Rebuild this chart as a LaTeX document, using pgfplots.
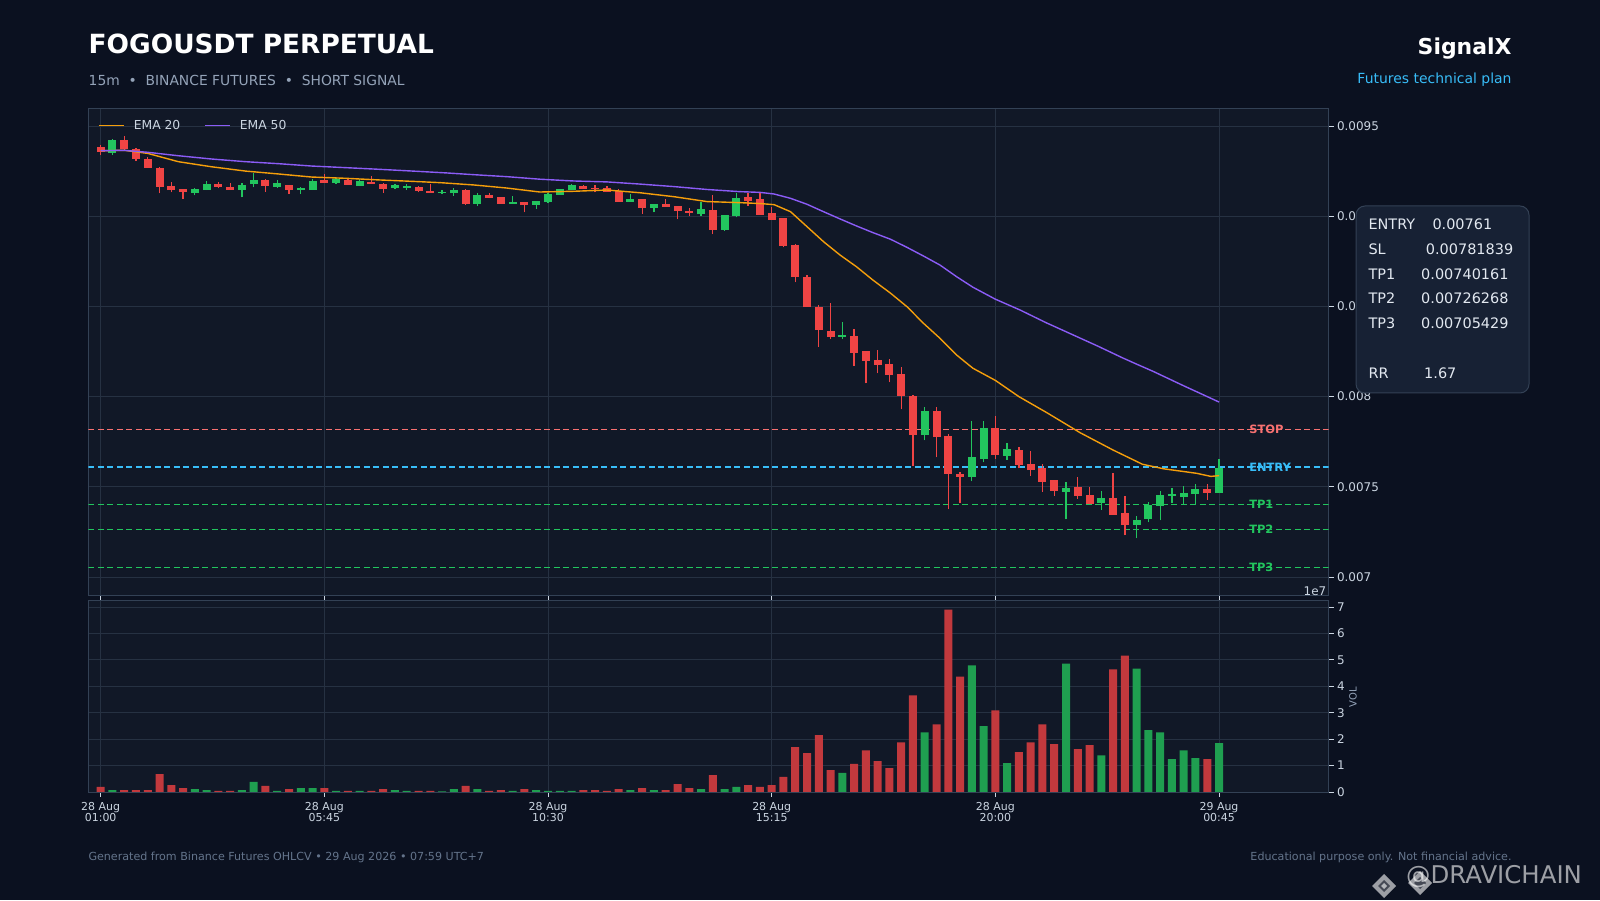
\documentclass[border=0pt]{standalone}
\usepackage{fontspec}
\setmainfont{DejaVu Sans}
\usepackage{pgfplots}
\usepackage{pgfplotstable}
\pgfplotsset{compat=1.18}
\pgfplotsset{/pgf/number format/assume math mode=true}

\definecolor{cBg}{HTML}{0B1120}
\definecolor{cPlot}{HTML}{111827}
\definecolor{cGrid}{HTML}{263142}
\definecolor{cSpine}{HTML}{334155}
\definecolor{cTick}{HTML}{CBD5E1}
\definecolor{cUp}{HTML}{22C55E}
\definecolor{cDown}{HTML}{EF4444}
\definecolor{vUp}{HTML}{1F9F50}
\definecolor{vDown}{HTML}{C2393D}
\definecolor{cEmaA}{HTML}{F59E0B}
\definecolor{cEmaB}{HTML}{8B5CF6}
\definecolor{cStop}{HTML}{F87171}
\definecolor{cEntry}{HTML}{38BDF8}
\definecolor{cTP}{HTML}{22C55E}
\definecolor{cSub}{HTML}{94A3B8}
\definecolor{cFoot}{HTML}{64748B}
\definecolor{cBox}{HTML}{172134}
\definecolor{cBoxEdge}{HTML}{334155}
\definecolor{cBoxText}{HTML}{E2E8F0}

\newcommand{\fsz}[1]{\fontsize{#1}{#1}\selectfont}

% green (up) candles: index, open, high, low, close, volume
\pgfplotstableread{
i o h l c v
1 0.009352 0.009426 0.009339 0.009422 0.075e7
8 0.009129 0.009154 0.009116 0.009151 0.11e7
9 0.009145 0.009193 0.009145 0.009178 0.075e7
12 0.009145 0.009182 0.009104 0.009173 0.075e7
13 0.009178 0.009241 0.009160 0.009201 0.38e7
15 0.009162 0.009199 0.009156 0.009184 0.04e7
17 0.009145 0.009164 0.009125 0.009158 0.15e7
18 0.009145 0.009204 0.009145 0.009195 0.15e7
20 0.009184 0.009212 0.009180 0.009208 0.04e7
22 0.009167 0.009204 0.009167 0.009195 0.04e7
25 0.009156 0.009177 0.009152 0.009173 0.075e7
26 0.009156 0.009178 0.009145 0.009167 0.04e7
29 0.009129 0.009145 0.009125 0.009136 0.02e7
30 0.009130 0.009154 0.009114 0.009147 0.11e7
32 0.009067 0.009130 0.009056 0.009116 0.11e7
35 0.009070 0.009112 0.009070 0.009079 0.04e7
37 0.009062 0.009084 0.009042 0.009084 0.075e7
38 0.009079 0.009127 0.009073 0.009123 0.04e7
39 0.009118 0.009153 0.009118 0.009151 0.04e7
40 0.009145 0.009180 0.009145 0.009173 0.04e7
45 0.009079 0.009125 0.009079 0.009095 0.075e7
47 0.009045 0.009068 0.009021 0.009068 0.075e7
51 0.009012 0.009081 0.009001 0.009040 0.11e7
53 0.008924 0.009007 0.008920 0.009007 0.11e7
54 0.009001 0.009127 0.008994 0.009101 0.19e7
63 0.008332 0.008415 0.008317 0.008338 0.72e7
70 0.007787 0.007940 0.007758 0.007920 2.26e7
74 0.007556 0.007863 0.007530 0.007665 4.79e7
75 0.007654 0.007867 0.007636 0.007826 2.49e7
77 0.007671 0.007741 0.007649 0.007710 1.09e7
82 0.007473 0.007525 0.007320 0.007493 4.86e7
85 0.007412 0.007479 0.007371 0.007438 1.39e7
88 0.007288 0.007338 0.007214 0.007316 4.67e7
89 0.007321 0.007416 0.007303 0.007399 2.34e7
90 0.007394 0.007475 0.007314 0.007455 2.26e7
91 0.007449 0.007492 0.007412 0.007460 1.24e7
92 0.007443 0.007506 0.007405 0.007466 1.58e7
93 0.007460 0.007514 0.007406 0.007488 1.28e7
95 0.007468 0.007654 0.007466 0.007606 1.85e7
}\uptab

% red (down) candles: index, open, high, low, close, volume
\pgfplotstableread{
i o h l c v
0 0.009385 0.009395 0.009339 0.009358 0.19e7
2 0.009422 0.009444 0.009367 0.009372 0.075e7
3 0.009372 0.009376 0.009308 0.009317 0.075e7
4 0.009315 0.009326 0.009269 0.009269 0.075e7
5 0.009267 0.009274 0.009127 0.009164 0.68e7
6 0.009167 0.009188 0.009132 0.009145 0.26e7
7 0.009151 0.009151 0.009097 0.009134 0.15e7
10 0.009178 0.009189 0.009154 0.009162 0.04e7
11 0.009162 0.009182 0.009145 0.009145 0.04e7
14 0.009201 0.009204 0.009136 0.009167 0.23e7
16 0.009173 0.009173 0.009123 0.009145 0.11e7
19 0.009201 0.009232 0.009184 0.009184 0.15e7
21 0.009202 0.009208 0.009175 0.009175 0.04e7
23 0.009189 0.009221 0.009178 0.009178 0.04e7
24 0.009178 0.009182 0.009130 0.009151 0.11e7
27 0.009162 0.009165 0.009132 0.009140 0.04e7
28 0.009140 0.009178 0.009130 0.009130 0.04e7
31 0.009145 0.009149 0.009064 0.009067 0.23e7
33 0.009118 0.009127 0.009099 0.009103 0.04e7
34 0.009106 0.009106 0.009068 0.009068 0.075e7
36 0.009079 0.009079 0.009021 0.009062 0.11e7
41 0.009167 0.009175 0.009151 0.009151 0.075e7
42 0.009155 0.009175 0.009132 0.009149 0.075e7
43 0.009156 0.009166 0.009134 0.009134 0.04e7
44 0.009140 0.009153 0.009079 0.009079 0.11e7
46 0.009095 0.009095 0.009014 0.009045 0.15e7
48 0.009068 0.009094 0.009051 0.009051 0.075e7
49 0.009057 0.009057 0.008983 0.009029 0.30e7
50 0.009029 0.009044 0.009003 0.009018 0.15e7
52 0.009034 0.009116 0.008899 0.008924 0.64e7
55 0.009105 0.009130 0.009058 0.009084 0.26e7
56 0.009095 0.009127 0.009007 0.009007 0.19e7
57 0.009018 0.009053 0.008979 0.008979 0.26e7
58 0.008992 0.008992 0.008827 0.008835 0.57e7
59 0.008840 0.008846 0.008633 0.008665 1.70e7
60 0.008665 0.008672 0.008499 0.008499 1.47e7
61 0.008499 0.008506 0.008277 0.008369 2.15e7
62 0.008364 0.008517 0.008317 0.008332 0.83e7
64 0.008338 0.008373 0.008172 0.008244 1.06e7
65 0.008253 0.008253 0.008074 0.008199 1.58e7
66 0.008203 0.008256 0.008129 0.008177 1.17e7
67 0.008181 0.008207 0.008079 0.008122 0.90e7
68 0.008125 0.008162 0.007929 0.008005 1.88e7
69 0.008003 0.008009 0.007617 0.007787 3.66e7
71 0.007920 0.007940 0.007663 0.007778 2.56e7
72 0.007782 0.007791 0.007375 0.007571 6.90e7
73 0.007571 0.007580 0.007412 0.007556 4.37e7
76 0.007826 0.007894 0.007652 0.007676 3.09e7
78 0.007704 0.007719 0.007602 0.007621 1.51e7
79 0.007626 0.007697 0.007562 0.007593 1.88e7
80 0.007604 0.007625 0.007473 0.007528 2.56e7
81 0.007538 0.007538 0.007451 0.007477 1.81e7
83 0.007499 0.007553 0.007434 0.007449 1.62e7
84 0.007455 0.007501 0.007405 0.007405 1.77e7
86 0.007438 0.007575 0.007344 0.007344 4.64e7
87 0.007355 0.007451 0.007231 0.007288 5.16e7
94 0.007488 0.007514 0.007429 0.007466 1.24e7
}\downtab

\pgfplotsset{
  panel/.style={
    scale only axis, width=1240.2bp,
    xmin=-1.05, xmax=104.3,
    axis background/.style={fill=cPlot},
    axis line style={cSpine, line width=0.8bp},
    grid=major, major grid style={cGrid, line width=0.8bp},
    tick align=outside, major tick length=5bp,
    tick style={cTick, line width=0.8bp},
    xtick pos=left, ytick pos=right, yticklabel pos=right,
    xtick={0,19,38,57,76,95},
    tick label style={text=cTick},
    y tick label style={font=\fsz{12}},
  },
  wick/.style={draw=none, mark=none, forget plot,
    error bars/.cd, y dir=plus, y explicit, error mark=none,
    error bar style={draw=#1, line width=1.3bp}},
  body/.style={draw=none, mark=none, forget plot,
    error bars/.cd, y dir=plus, y explicit, error mark=none,
    error bar style={draw=#1, line width=8bp}},
  level/.style={forget plot, #1, line width=1.3bp, dash pattern=on 6bp off 3.5bp},
}

\begin{document}
\begin{tikzpicture}[x=1bp,y=1bp]
\fill[cBg] (0,0) rectangle (1600,900);
\useasboundingbox (0,0) rectangle (1600,900);

% ---------------- price panel ----------------
\begin{axis}[panel,
  at={(88.3bp,304.7bp)}, anchor=south west, height=487bp,
  ymin=0.006899, ymax=0.009598,
  xticklabels={},
  ytick={0.007,0.0075,0.008,0.0085,0.009,0.0095},
  scaled y ticks=false,
  yticklabel style={/pgf/number format/fixed, /pgf/number format/precision=4},
  legend style={at={(0.0055,0.986)}, anchor=north west, draw=none, fill=none,
    text=cTick, font=\fsz{12.4}, inner sep=3bp,
    /tikz/every odd column/.append style={column sep=7bp},
    /tikz/every even column/.append style={column sep=22bp}},
  legend columns=2,
  legend image code/.code={\draw[#1, line width=1.5bp] (0bp,0bp) -- (25bp,0bp);},
]
% level lines
\addplot[level=cStop] coordinates {(-1.05,0.00781839) (104.3,0.00781839)};
\addplot[level=cEntry] coordinates {(-1.05,0.00761) (104.3,0.00761)};
\addplot[level=cTP] coordinates {(-1.05,0.00740161) (104.3,0.00740161)};
\addplot[level=cTP] coordinates {(-1.05,0.00726268) (104.3,0.00726268)};
\addplot[level=cTP] coordinates {(-1.05,0.00705429) (104.3,0.00705429)};

% candles
\addplot[wick=cUp] table[x=i, y=l, y error plus expr={\thisrow{h}-\thisrow{l}}] {\uptab};
\addplot[wick=cDown] table[x=i, y=l, y error plus expr={\thisrow{h}-\thisrow{l}}] {\downtab};
\addplot[body=cUp] table[x=i, y=o, y error plus expr={max(\thisrow{c}-\thisrow{o},0.000007)}] {\uptab};
\addplot[body=cDown] table[x=i, y=c, y error plus expr={max(\thisrow{o}-\thisrow{c},0.000007)}] {\downtab};

% EMAs
\addplot[cEmaA, line width=1.4bp, mark=none] coordinates {
(0,0.009363) (2,0.009365) (4,0.009348) (6.6,0.009302) (9.4,0.009274) (12.3,0.009250)
(15.1,0.009234) (17.9,0.009217) (20.8,0.009210) (23.6,0.009201) (26.5,0.009193)
(28.8,0.009186) (31.7,0.009173) (34.5,0.009156) (37.3,0.009134) (40.2,0.009138)
(43,0.009145) (45.8,0.009130) (48.7,0.009108) (51.5,0.009081) (54.3,0.009075)
(56,0.009070) (57.2,0.009064) (58.6,0.009025) (60,0.008942) (61.4,0.008859)
(62.8,0.008785) (64.2,0.008720) (65.6,0.008646) (67.1,0.008573) (68.5,0.008498)
(69.9,0.008406) (71.3,0.008323) (72.7,0.008231) (74.1,0.008157) (76,0.008090)
(78,0.008000) (80.4,0.007910) (83.2,0.007800) (86,0.007704) (88.5,0.007625)
(90.3,0.007600) (93.1,0.007575) (94.3,0.007558) (95,0.007562)};
\addlegendentry{EMA 20}
\addplot[cEmaB, line width=1.4bp, mark=none] coordinates {
(0,0.009363) (2,0.009365) (4,0.009354) (6.6,0.009335) (9.4,0.009317) (12.3,0.009302)
(15.1,0.009291) (17.9,0.009278) (20.8,0.009269) (23.6,0.009260) (26.5,0.009250)
(29.3,0.009240) (31.7,0.009230) (34.5,0.009219) (37.3,0.009205) (40.2,0.009195)
(43,0.009190) (45.8,0.009178) (48.7,0.009164) (51.5,0.009148) (54.3,0.009136)
(56,0.009132) (57.2,0.009123) (58.6,0.009099) (60,0.009066) (61.4,0.009025)
(62.8,0.008985) (64.2,0.008946) (65.6,0.008909) (67.1,0.008872) (68.5,0.008827)
(69.9,0.008779) (71.3,0.008729) (72.7,0.008665) (74.1,0.008606) (76,0.008540)
(78.1,0.008480) (80.3,0.008410) (82.5,0.008345) (84.7,0.008280) (86.8,0.008215)
(88,0.008180) (89.4,0.008140) (90.7,0.008100) (92,0.008060) (93.5,0.008015) (95,0.007970)};
\addlegendentry{EMA 50}

% level labels
\node[anchor=west, inner sep=0, text=cStop, font=\bfseries\fsz{11.5}] at (axis cs:97.55,0.00781839) {STOP};
\node[anchor=west, inner sep=0, text=cEntry, font=\bfseries\fsz{11.5}] at (axis cs:97.55,0.00761) {ENTRY};
\node[anchor=west, inner sep=0, text=cTP, font=\bfseries\fsz{11.5}] at (axis cs:97.55,0.00740161) {TP1};
\node[anchor=west, inner sep=0, text=cTP, font=\bfseries\fsz{11.5}] at (axis cs:97.55,0.00726268) {TP2};
\node[anchor=west, inner sep=0, text=cTP, font=\bfseries\fsz{11.5}] at (axis cs:97.55,0.00705429) {TP3};
\end{axis}

% ---------------- volume panel ----------------
\begin{axis}[panel,
  at={(88.3bp,108bp)}, anchor=south west, height=191.3bp,
  ymin=0, ymax=7.24e7,
  ytick={0,1e7,2e7,3e7,4e7,5e7,6e7,7e7},
  yticklabels={0,1,2,3,4,5,6,7},
  scaled y ticks=false,
  xticklabels={{28 Aug\\01:00},{28 Aug\\05:45},{28 Aug\\10:30},{28 Aug\\15:15},{28 Aug\\20:00},{29 Aug\\00:45}},
  x tick label style={align=center, font=\fsz{11}, yshift=-1.5bp},
]
\addplot[ybar, bar width=8bp, bar shift=0pt, fill=vUp, draw=none] table[x=i, y=v] {\uptab};
\addplot[ybar, bar width=8bp, bar shift=0pt, fill=vDown, draw=none] table[x=i, y=v] {\downtab};
\end{axis}

% axis extras
\node[anchor=center, text=cTick, font=\fsz{12}] at (1315,309) {1e7};
\node[rotate=90, anchor=center, text=cSub, font=\fsz{10}] at (1353,203) {VOL};

% titles
\node[anchor=base west, inner sep=0, text=white, font=\bfseries\fsz{26.5}] at (88.5,846) {FOGOUSDT PERPETUAL};
\node[anchor=base west, inner sep=0, text=cSub, font=\fsz{13.9}] at (88.5,814.3) {15m \ \textbullet\ \ BINANCE FUTURES \ \textbullet\ \ SHORT SIGNAL};
\node[anchor=base east, inner sep=0, text=white, font=\bfseries\fsz{22}] at (1511.7,845.7) {SignalX};
\node[anchor=base east, inner sep=0, text=cEntry, font=\fsz{14}] at (1511.7,816.7) {Futures technical plan};

% info box
\filldraw[fill=cBox, draw=cBoxEdge, line width=1bp, rounded corners=9bp] (1356,694) rectangle (1529,507);
\begin{scope}[every node/.style={anchor=base west, inner sep=0, text=cBoxText, font=\fsz{14.5}}]
\node at (1368.3,670) {ENTRY}; \node at (1432.3,670) {0.00761};
\node at (1368.3,645) {SL};    \node at (1425.7,645) {0.00781839};
\node at (1368.3,620) {TP1};   \node at (1421,620) {0.00740161};
\node at (1368.3,596) {TP2};   \node at (1421,596) {0.00726268};
\node at (1368.3,571) {TP3};   \node at (1421,571) {0.00705429};
\node at (1368.3,521.7) {RR};  \node at (1424,521.7) {1.67};
\end{scope}

% footer
\node[anchor=base west, inner sep=0, text=cFoot, font=\fsz{11.15}] at (88.3,40) {Generated from Binance Futures OHLCV \textbullet\ 29 Aug 2026 \textbullet\ 07:59 UTC+7};
\node[anchor=base east, inner sep=0, text=cFoot, font=\fsz{11.15}] at (1511.7,40) {Educational purpose only. Not financial advice.};

% watermark
\begin{scope}[opacity=0.6]
\fill[white] (1384,26) -- (1396,14) -- (1384,2) -- (1372,14) -- cycle;
\fill[cBg] (1384,20) -- (1390,14) -- (1384,8) -- (1378,14) -- cycle;
\fill[white] (1384,17) -- (1387,14) -- (1384,11) -- (1381,14) -- cycle;
\fill[white] (1420,29) -- (1432,17) -- (1420,5) -- (1408,17) -- cycle;
\fill[cBg] (1420,23) -- (1426,17) -- (1420,11) -- (1414,17) -- cycle;
\node[anchor=base west, inner sep=0, text=white, font=\fsz{24.5}] at (1406,17) {@DRAVICHAIN};
\end{scope}
\end{tikzpicture}
\end{document}
